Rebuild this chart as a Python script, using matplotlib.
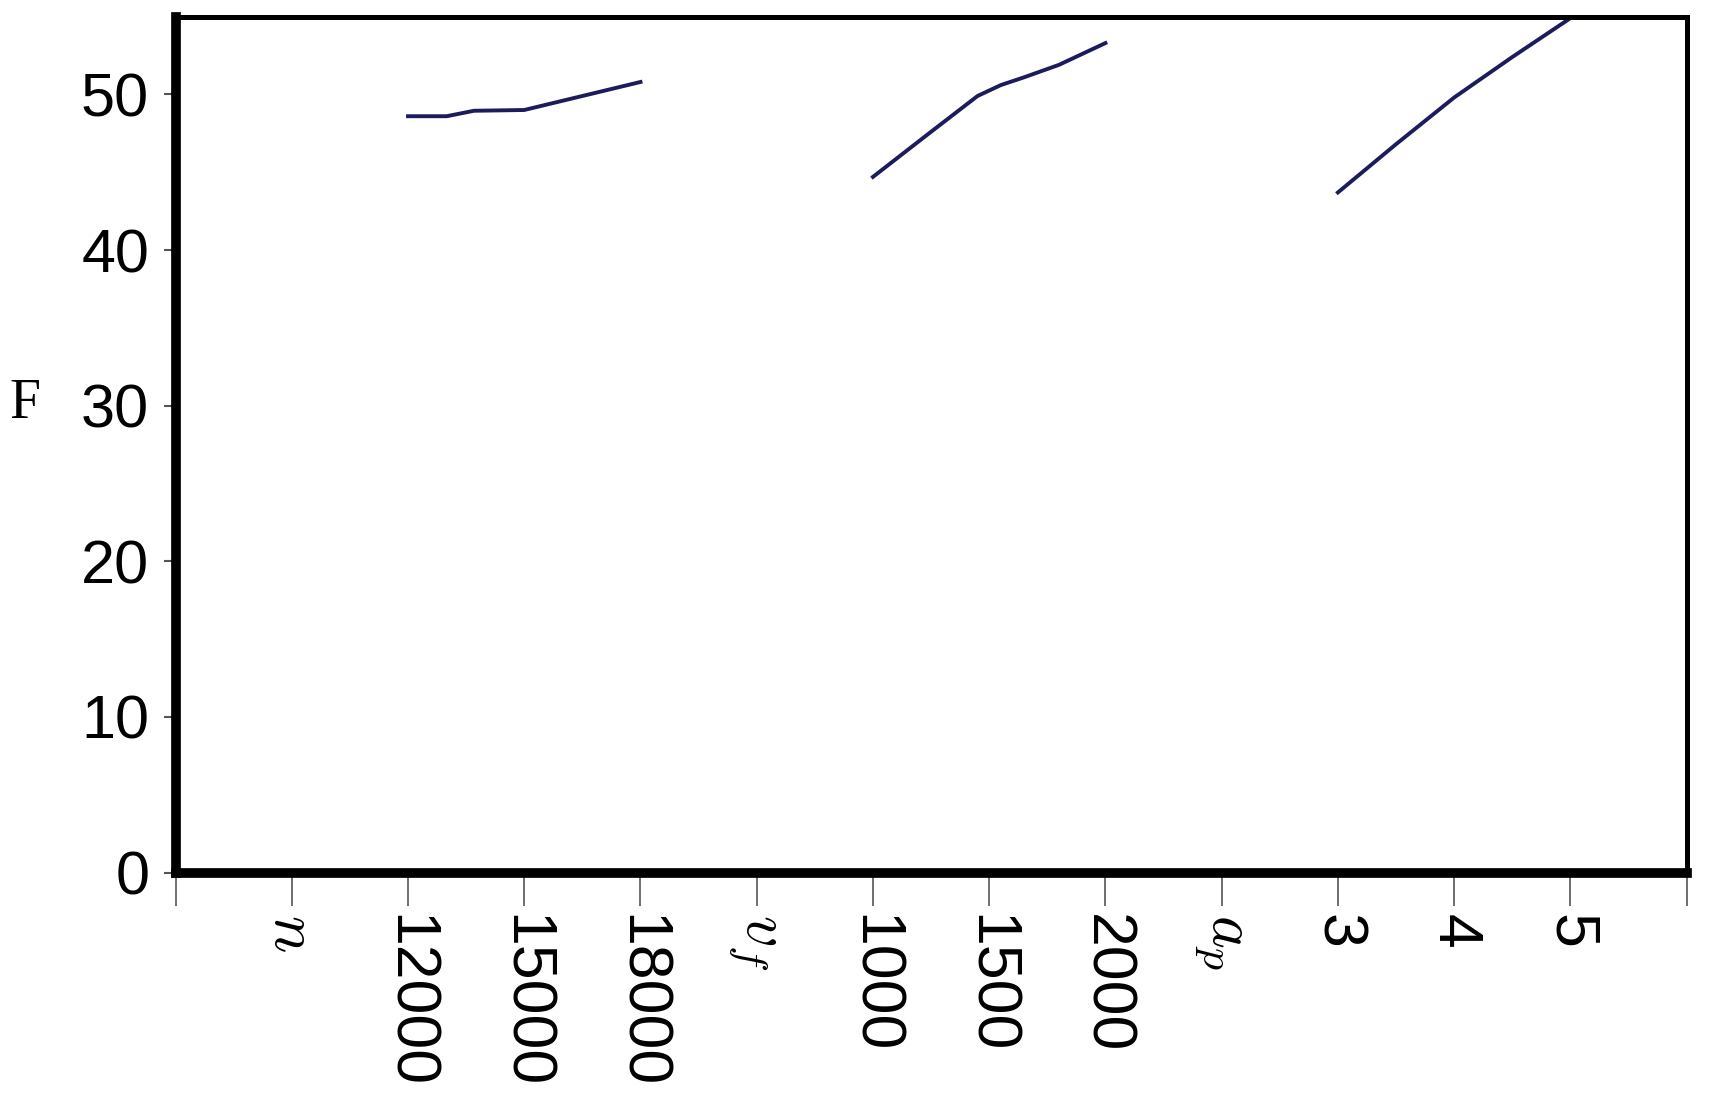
import numpy as np
import matplotlib
matplotlib.use('Agg')
import matplotlib.pyplot as plt

plt.rcParams['mathtext.fontset'] = 'cm'

# spindle speed n (rpm)
n_vals = [12000, 13000, 13400, 13700, 15000, 16000, 17000, 18000]
n_F = [48.6, 48.6, 48.8, 48.95, 49.0, 49.6, 50.2, 50.8]

# feed speed v_f (mm/min)
vf_vals = [1000, 1250, 1450, 1550, 1650, 1800, 1900, 2000]
vf_F = [44.7, 47.6, 49.9, 50.6, 51.1, 51.9, 52.6, 53.3]

# cutting depth a_p (mm)
ap_vals = [3, 3.5, 4, 4.5, 5]
ap_F = [43.7, 46.8, 49.8, 52.4, 54.9]

tick_labels = ['', r'$n$', '12000', '15000', '18000', r'$v_f$', '1000', '1500', '2000',
               r'$a_p$', '3', '4', '5', '']
y_ticks = [0, 10, 20, 30, 40, 50]

# each factor gets its own stretch of a shared x axis
def to_axis(vals, start, lo, step):
    return [start + (v - lo) / step for v in vals]

fig = plt.figure(figsize=(17.21, 11.08), dpi=100)
ax = fig.add_axes([0.102, 0.2125, 0.878, 0.7725])

line_col = '#1c1c5c'
ax.plot(to_axis(n_vals, 2, 12000, 3000), n_F, color=line_col, lw=2.8)
ax.plot(to_axis(vf_vals, 6, 1000, 500), vf_F, color=line_col, lw=2.8)
ax.plot(to_axis(ap_vals, 10, 3, 1), ap_F, color=line_col, lw=2.8)

ax.set_xlim(0, 13)
ax.set_ylim(0, 55)
ax.set_xticks(range(14))
ax.set_xticklabels(tick_labels, rotation=-90, fontsize=45, family='Liberation Sans', va='top')
ax.set_yticks(y_ticks)
ax.set_yticklabels([str(t) for t in y_ticks], fontsize=44, family='Liberation Sans')

ax.tick_params(axis='x', length=24, width=1.2, color='#555555', pad=6)
ax.tick_params(axis='y', length=9, width=1.5, color='#555555', pad=10)

for side in ['left', 'bottom']:
    ax.spines[side].set_linewidth(7)
for side in ['top', 'right']:
    ax.spines[side].set_linewidth(3.6)

ax.set_ylabel('F', rotation=0, fontsize=40, family='Liberation Serif', va='center', ha='center')
ax.yaxis.set_label_coords(-0.1, 0.547)

fig.savefig('out.png', dpi=100)
